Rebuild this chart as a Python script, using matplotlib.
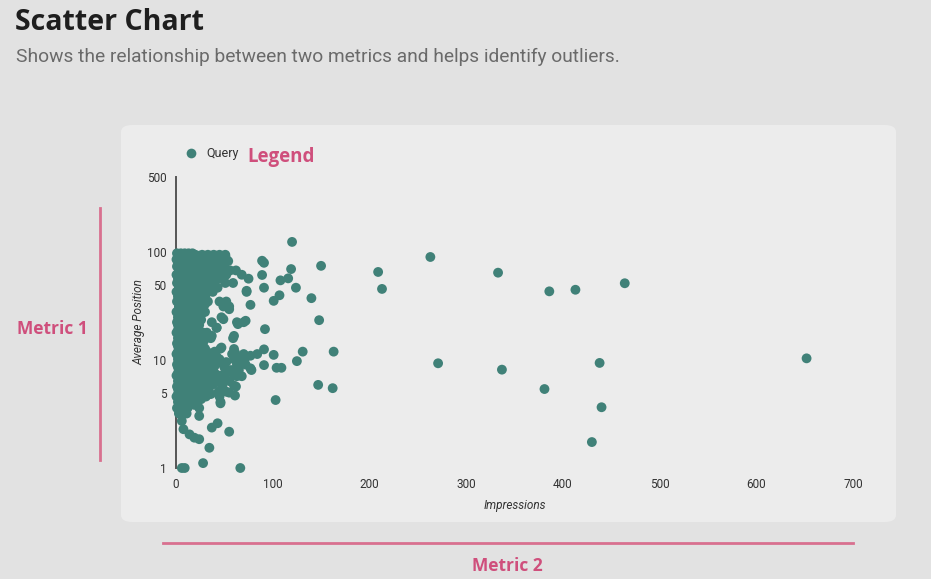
import matplotlib.pyplot as plt
from matplotlib.patches import FancyBboxPatch
from matplotlib.lines import Line2D
from matplotlib.ticker import FixedLocator, NullLocator

# Impressions (x) and Average Position (y) per query.
# Dense block of queries close to the y axis
core_x = [
    1, 5, 9, 13, 17,
    2, 7, 11, 15, 24, 30, 36, 42, 48,
    3, 10, 20, 27, 33, 39, 45, 51,
    0.5, 4, 8, 12, 19, 27, 33, 40, 46, 52,
    3, 9, 16, 24, 31, 36, 42, 48, 54,
    2, 6, 10, 14, 22, 29, 38, 44, 50,
    1, 5, 9, 13, 17, 25, 34, 41, 47,
    3, 10, 19, 23, 28, 36, 43, 50,
    3, 7, 11, 16, 21, 31, 38, 56, 62,
    0.5, 5, 9, 14, 19, 26, 33, 44, 52, 68,
    4, 12, 17, 25, 32, 39, 42,
    2, 6, 10, 15, 22, 29, 36, 47, 75,
    1, 4, 8, 12, 18, 24, 31, 40, 51, 59,
    6, 14, 19, 23, 29, 33, 38,
    3, 7, 11, 16, 21, 27, 35, 43,
    0.5, 5, 9, 13, 19, 25, 32, 38, 73,
    4, 12, 17, 20, 26, 31,
    2, 6, 10, 15, 22, 28,
    3, 9, 14, 20, 26, 29,
    1, 4, 8, 12, 18, 24, 33, 45, 52,
    6, 13, 19, 23, 30,
    3, 7, 11, 16, 21, 27, 49, 55,
    3, 8, 12, 17, 22, 25,
    0.5, 5, 9, 14, 19, 30,
    4, 8, 12, 18, 21, 26,
    2, 6, 10, 15, 23, 47,
    3, 10, 14, 20, 26,
    1, 4, 8, 12, 18, 37, 63, 70,
    2, 6, 10, 14, 19, 24,
    3, 7, 11, 16, 42,
    2, 6, 12, 18, 23,
    0.5, 5, 9, 14, 20, 28,
    3, 8, 12, 17, 22,
    2, 6, 10, 15, 24, 36, 59,
    3, 8, 13, 19, 29,
    1, 4, 8, 12, 18, 26,
    2, 6, 10, 14, 20, 24, 28,
    3, 7, 11, 16, 22, 30, 46,
    2, 8, 12, 18, 24, 32, 40,
    0.5, 5, 9, 14, 20, 27, 34, 58, 70,
    3, 7, 12, 17, 21, 25, 29, 36, 42,
    2, 6, 10, 15, 23, 31, 38, 60, 65,
    3, 7, 11, 16, 20, 28, 35, 44, 52,
    1, 4, 8, 12, 18, 25, 33, 41, 63, 72,
    2, 6, 10, 14, 19, 23, 31, 39, 50,
    3, 7, 11, 16, 21, 28, 36, 57, 65, 78,
    2, 7, 12, 17, 24, 29, 34, 40, 52,
    0.5, 5, 9, 14, 19, 26, 32, 46, 60,
    3, 8, 12, 17, 24, 28, 37, 48,
    2, 6, 10, 15, 22, 30, 42, 55,
    3, 7, 10, 14, 20, 27, 32, 39,
    1, 4, 8, 12, 18, 24, 35, 48, 62,
    2, 6, 10, 14, 19, 25, 33,
    3, 7, 11, 16, 21, 28, 44, 52,
    2, 7, 12, 17, 24, 36,
    0.5, 5, 9, 14, 19, 31, 45,
    3, 8, 12, 17, 26,
    2, 6, 10, 15, 22, 46,
    3, 7, 14, 19,
    1, 4, 8, 12, 24,
    3, 7, 11,
]
core_y = [
    98, 98, 98, 98, 98,
    93, 93, 93, 93, 93, 93, 93, 93, 93,
    95, 95, 95, 95, 95, 95, 95, 95,
    86, 86, 86, 86, 86, 86, 86, 86, 86, 86,
    83, 83, 83, 83, 83, 83, 83, 83, 83,
    80, 80, 80, 80, 80, 80, 80, 80, 80,
    74, 74, 74, 74, 74, 74, 74, 74, 74,
    71, 71, 71, 71, 71, 71, 71, 71,
    68, 68, 68, 68, 68, 68, 68, 68, 68,
    62, 62, 62, 62, 62, 62, 62, 62, 62, 62,
    59, 59, 59, 59, 59, 59, 59,
    57, 57, 57, 57, 57, 57, 57, 57, 57,
    52, 52, 52, 52, 52, 52, 52, 52, 52, 52,
    49.5, 49.5, 49.5, 49.5, 49.5, 49.5, 49.5,
    47, 47, 47, 47, 47, 47, 47, 47,
    43, 43, 43, 43, 43, 43, 43, 43, 43,
    41, 41, 41, 41, 41, 41,
    39, 39, 39, 39, 39, 39,
    37, 37, 37, 37, 37, 37,
    35, 35, 35, 35, 35, 35, 35, 35, 35,
    33, 33, 33, 33, 33,
    31.5, 31.5, 31.5, 31.5, 31.5, 31.5, 31.5, 31.5,
    29.5, 29.5, 29.5, 29.5, 29.5, 29.5,
    28, 28, 28, 28, 28, 28,
    26.5, 26.5, 26.5, 26.5, 26.5, 26.5,
    25, 25, 25, 25, 25, 25,
    23.7, 23.7, 23.7, 23.7, 23.7,
    22.5, 22.5, 22.5, 22.5, 22.5, 22.5, 22.5, 22.5,
    21.2, 21.2, 21.2, 21.2, 21.2, 21.2,
    20, 20, 20, 20, 20,
    19, 19, 19, 19, 19,
    18, 18, 18, 18, 18, 18,
    17, 17, 17, 17, 17,
    16, 16, 16, 16, 16, 16, 16,
    15.2, 15.2, 15.2, 15.2, 15.2,
    14.3, 14.3, 14.3, 14.3, 14.3, 14.3,
    13.5, 13.5, 13.5, 13.5, 13.5, 13.5, 13.5,
    12.8, 12.8, 12.8, 12.8, 12.8, 12.8, 12.8,
    12, 12, 12, 12, 12, 12, 12,
    11.4, 11.4, 11.4, 11.4, 11.4, 11.4, 11.4, 11.4, 11.4,
    10.8, 10.8, 10.8, 10.8, 10.8, 10.8, 10.8, 10.8, 10.8,
    10.2, 10.2, 10.2, 10.2, 10.2, 10.2, 10.2, 10.2, 10.2,
    9.6, 9.6, 9.6, 9.6, 9.6, 9.6, 9.6, 9.6, 9.6,
    9.1, 9.1, 9.1, 9.1, 9.1, 9.1, 9.1, 9.1, 9.1, 9.1,
    8.6, 8.6, 8.6, 8.6, 8.6, 8.6, 8.6, 8.6, 8.6,
    8.1, 8.1, 8.1, 8.1, 8.1, 8.1, 8.1, 8.1, 8.1, 8.1,
    7.6, 7.6, 7.6, 7.6, 7.6, 7.6, 7.6, 7.6, 7.6,
    7.2, 7.2, 7.2, 7.2, 7.2, 7.2, 7.2, 7.2, 7.2,
    6.8, 6.8, 6.8, 6.8, 6.8, 6.8, 6.8, 6.8,
    6.4, 6.4, 6.4, 6.4, 6.4, 6.4, 6.4, 6.4,
    6.0, 6.0, 6.0, 6.0, 6.0, 6.0, 6.0, 6.0,
    5.7, 5.7, 5.7, 5.7, 5.7, 5.7, 5.7, 5.7, 5.7,
    5.4, 5.4, 5.4, 5.4, 5.4, 5.4, 5.4,
    5.1, 5.1, 5.1, 5.1, 5.1, 5.1, 5.1, 5.1,
    4.85, 4.85, 4.85, 4.85, 4.85, 4.85,
    4.6, 4.6, 4.6, 4.6, 4.6, 4.6, 4.6,
    4.35, 4.35, 4.35, 4.35, 4.35,
    4.1, 4.1, 4.1, 4.1, 4.1, 4.1,
    3.85, 3.85, 3.85, 3.85,
    3.6, 3.6, 3.6, 3.6, 3.6,
    3.2, 3.2, 3.2,
]

# Looser points around the block
spread_x = [
    89, 91, 89, 91, 108, 119, 116, 124, 140, 107, 101, 148, 92, 77, 73,
    72, 64, 60, 47, 71, 64, 77, 84, 91, 91, 101, 104, 109, 125, 131,
    163, 147, 162, 103, 61, 46, 55, 43, 37, 34.5, 28, 66.5, 6, 9,
    24, 19, 14, 7.7, 6, 3.6, 24, 63, 68, 61, 60, 77, 45, 47, 60, 55,
    50, 55, 49, 42, 37, 32, 120, 150, 51,
]
spread_y = [
    83.6, 80, 61.7, 47, 55, 70, 57.4, 47, 37.6, 40, 35.5, 23.5, 19.4, 32.6, 44,
    23.2, 21.6, 16.8, 13.1, 10.2, 8.5, 8.4, 11.4, 12.6, 9.0, 11.2, 8.5, 8.5, 9.8, 12,
    12, 5.9, 5.5, 4.27, 4.7, 3.98, 2.17, 2.6, 2.37, 1.54, 1.11, 1.0, 1.0, 1.0,
    1.85, 1.91, 2.05, 2.29, 2.73, 3.27, 3.04, 7.1, 7.1, 11.8, 12.7, 11, 10.2, 6.2, 5.8, 5.0,
    31.8, 29.7, 24, 20, 16.8, 18, 125, 75, 92,
]

# Outliers far to the right
outlier_x = [209, 213, 263, 333, 386, 413, 464, 271, 337, 381, 438, 440, 430, 652]
outlier_y = [65.8, 45.8, 90.6, 64.8, 43.5, 45, 51.7, 9.36, 8.17, 5.4, 9.43, 3.66, 1.74, 10.4]

x_ticks = [0, 100, 200, 300, 400, 500, 600, 700]
y_ticks = [1, 5, 10, 50, 100, 500]

impressions = core_x + spread_x + outlier_x
avg_position = core_y + spread_y + outlier_y

W, H = 931, 579
dot_color = '#408178'
pink = '#cf4f7c'
pink_line = '#d8708f'

plt.rcParams['font.family'] = ['Roboto', 'DejaVu Sans']

fig = plt.figure(figsize=(W / 100, H / 100), dpi=100)
fig.patch.set_facecolor('#e2e2e2')


def fx(px):
    return px / W


def fy(py):
    return 1 - py / H


# Card behind the chart
card = FancyBboxPatch((fx(121), fy(522)), fx(896) - fx(121), fy(125) - fy(522),
                      boxstyle='round,pad=0,rounding_size=0.012',
                      transform=fig.transFigure, facecolor='#ececec',
                      edgecolor='none', zorder=-5)
fig.patches.append(card)

# Title and subtitle
fig.text(fx(15), fy(23), 'Scatter Chart', fontsize=20.5, fontweight='bold',
         color='#1e1e1e', va='center', ha='left', family=['Open Sans', 'DejaVu Sans'])
fig.text(fx(16), fy(57), 'Shows the relationship between two metrics and helps identify outliers.',
         fontsize=13.8, color='#6a6a6a', va='center', ha='left')

ax = fig.add_axes([fx(176), fy(468), fx(853) - fx(176), fy(177) - fy(468)])
ax.set_facecolor('none')
ax.scatter(impressions, avg_position, s=50, color=dot_color, edgecolors='none',
           clip_on=False, zorder=3)

ax.set_yscale('log')
ax.set_xlim(0, 700)
ax.set_ylim(1, 500)
ax.xaxis.set_major_locator(FixedLocator(x_ticks))
ax.yaxis.set_major_locator(FixedLocator(y_ticks))
ax.yaxis.set_minor_locator(NullLocator())
ax.set_xticklabels([str(t) for t in x_ticks])
ax.set_yticklabels([str(t) for t in y_ticks])
ax.tick_params(axis='both', length=0, labelsize=8.5, colors='#333333')
ax.tick_params(axis='x', pad=7)
ax.tick_params(axis='y', pad=7)

for side in ['top', 'right', 'bottom']:
    ax.spines[side].set_visible(False)
ax.spines['left'].set_color('#555555')
ax.spines['left'].set_linewidth(1.4)

ax.set_xlabel('Impressions', fontsize=8.5, style='italic', color='#333333', labelpad=6)
ax.set_ylabel('Average Position', fontsize=8.5, style='italic', color='#333333', labelpad=1)

# Legend
handle = Line2D([], [], marker='o', linestyle='none', markersize=7,
                markerfacecolor=dot_color, markeredgecolor='none')
ax.legend([handle], ['Query'], loc='center left', frameon=False, fontsize=9,
          bbox_to_anchor=(fx(178), fy(154)), bbox_transform=fig.transFigure,
          handletextpad=0.3, borderpad=0, borderaxespad=0, labelcolor='#333333')

# Annotations
fig.text(fx(247), fy(157), 'Legend', fontsize=13.5, fontweight='bold', color=pink,
         va='center', ha='left', family=['Open Sans', 'DejaVu Sans'])
fig.text(fx(52), fy(329), 'Metric 1', fontsize=12.5, fontweight='bold', color=pink,
         va='center', ha='center', family=['Open Sans', 'DejaVu Sans'])
fig.text(fx(507), fy(566), 'Metric 2', fontsize=12.5, fontweight='bold', color=pink,
         va='center', ha='center', family=['Open Sans', 'DejaVu Sans'])
fig.add_artist(Line2D([fx(100), fx(100)], [fy(208), fy(460)], color=pink_line,
                      linewidth=2, transform=fig.transFigure))
fig.add_artist(Line2D([fx(163), fx(853)], [fy(543), fy(543)], color=pink_line,
                      linewidth=2, transform=fig.transFigure))

fig.savefig('out.png', dpi=100, facecolor=fig.get_facecolor())
